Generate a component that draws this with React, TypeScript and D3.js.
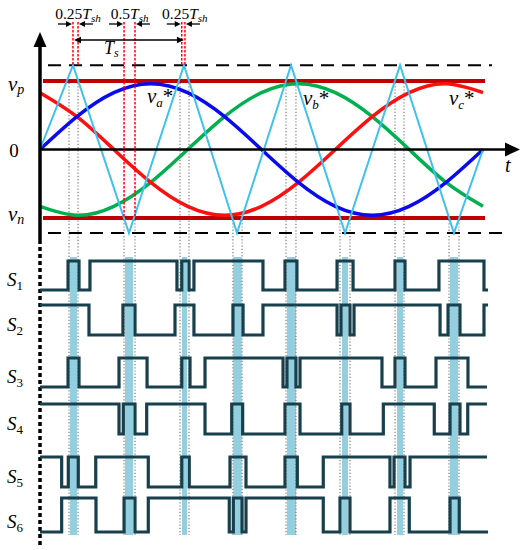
import React from "react";
import * as d3 from "d3";

// ---------- data (angle in electrical degrees, 0..360 = one fundamental period) ----------
const thetaDeg = [0, 30, 60, 90, 120, 150, 180, 210, 240, 270, 300, 330, 360];
const vaRef = [0, 0.48, 0.83, 0.96, 0.83, 0.48, 0, -0.48, -0.83, -0.96, -0.83, -0.48, 0];
const vbRef = [-0.83, -0.96, -0.83, -0.48, 0, 0.48, 0.83, 0.96, 0.83, 0.48, 0, -0.48, -0.83];
const vcRef = [0.83, 0.48, 0, -0.48, -0.83, -0.96, -0.83, -0.48, 0, 0.48, 0.83, 0.96, 0.83];

const carrierT = [0, 26.8, 72.3, 117.0, 160.1, 204.0, 247.9, 292.6, 336.4, 360];
const carrierV = [0, 1.23, -1.22, 1.23, -1.22, 1.23, -1.22, 1.23, -1.22, 0];

const vpLevel = 1;
const vnLevel = -1;
const dashTop = 1.23;
const dashBottom = -1.22;

// carrier crossing of vp / vn around each carrier vertex (peak, trough, peak, ...)
const crossingPairs = [
  [23.6, 30.9], [68.3, 77.2], [113.8, 121.1], [156.8, 164.2],
  [199.9, 208.0], [243.8, 251.9], [288.5, 295.8], [332.4, 340.5],
];
const crossingKind = ["peak", "trough", "peak", "trough", "peak", "trough", "peak", "trough"];

// shoot-through intervals (shaded)
const shootThrough = [
  [24.4, 30.1], [69.1, 75.6], [115.4, 119.5], [157.1, 163.9],
  [200.7, 208.0], [245.4, 250.3], [290.1, 295.0], [333.2, 339.7],
];

// annotation markers
const annotPairs = [[26.8, 30.9], [68.3, 77.2], [115.2, 117.8]];
const annotLabels = ["0.25", "0.5", "0.25"];
const tsSpan = [26.8, 117.8];

// switching signals: initial state + switching instants
const switchNames = ["1", "2", "3", "4", "5", "6"];
const switchInit = [0, 1, 0, 1, 1, 0];
const s1Edges = [22.8, 31.7, 40.6, 111.3, 115.2, 121.1, 125.1, 181.2, 199.1, 208.8, 241.4, 254.4, 288.5, 296.6, 324.2, 360.8];
const s2Edges = [39.8, 67.4, 77.2, 109.7, 125.1, 156.8, 165.0, 181.2, 241.4, 244.6, 251.9, 255.2, 325.1, 331.6, 341.3, 360.8];
const s3Edges = [22.8, 31.7, 64.2, 87.0, 115.2, 121.9, 134.1, 197.5, 200.7, 208.0, 211.3, 277.9, 288.5, 296.6, 321.8, 347.8];
const s4Edges = [64.2, 67.7, 77.2, 86.7, 134.1, 155.8, 164.7, 199.1, 211.3, 245.2, 251.9, 279.0, 320.4, 333.2, 341.3, 347.6];
const s5Edges = [17.6, 23.0, 31.1, 45.3, 88.0, 115.2, 121.3, 154.4, 167.4, 199.1, 209.1, 230.2, 284.4, 287.7, 296.6, 300.7];
const s6Edges = [17.6, 45.5, 68.3, 77.2, 88.0, 153.8, 157.1, 164.2, 167.4, 230.2, 243.8, 251.9, 284.4, 300.1, 333.2, 340.7];
const switchEdges = [s1Edges, s2Edges, s3Edges, s4Edges, s5Edges, s6Edges];
const switchEnd = [364.1, 364.1, 363.2, 363.2, 363.2, 364.1];

// ---------- drawing ----------
const SERIF = "'Liberation Serif', 'Times New Roman', serif";

export default function App() {
  const W = 527, H = 550;
  const x = d3.scaleLinear().domain([0, 360]).range([40, 483]);
  const y = d3.scaleLinear().domain([-1, 1]).range([218, 81]);

  // layout of pulse rows
  const ROW_HIGH = [261, 305, 358, 404, 457, 498];
  const ROW_LOW = [290, 335, 387, 434, 487, 532];
  const BAND_TOP = 257, BAND_BOTTOM = 535;
  const LABEL_SHIFT = [2.5, 0, 1.5];

  const smooth = d3.line<[number, number]>().x(d => x(d[0])).y(d => y(d[1])).curve(d3.curveNatural);
  const straight = d3.line<[number, number]>().x(d => x(d[0])).y(d => y(d[1]));

  const sinePath = (vals: number[]) => smooth(thetaDeg.map((t, i) => [t, vals[i]] as [number, number])) || "";
  const carrierPath = straight(carrierT.map((t, i) => [t, carrierV[i]] as [number, number])) || "";

  const pulsePath = (k: number) => {
    const hi = ROW_HIGH[k], lo = ROW_LOW[k];
    let state = switchInit[k];
    const pts: [number, number][] = [[x(0), state ? hi : lo]];
    for (const e of switchEdges[k]) {
      pts.push([x(e), state ? hi : lo]);
      state = 1 - state;
      pts.push([x(e), state ? hi : lo]);
    }
    pts.push([x(switchEnd[k]), state ? hi : lo]);
    return d3.line()(pts) || "";
  };

  const y0 = y(0);
  const arrowHead = (tx: number, ty: number, dir: "l" | "r" | "u", len: number, hw: number) => {
    if (dir === "r") return `M${tx},${ty}L${tx - len},${ty - hw}L${tx - len},${ty + hw}Z`;
    if (dir === "l") return `M${tx},${ty}L${tx + len},${ty - hw}L${tx + len},${ty + hw}Z`;
    return `M${tx},${ty}L${tx - hw},${ty + len}L${tx + hw},${ty + len}Z`;
  };

  return (
    <svg width={W} height={H} style={{ position: "absolute", left: 0, top: 0, background: "#fff" }}
      fontFamily={SERIF}>
      {/* shoot-through bands */}
      {shootThrough.map(([a, b], i) => (
        <rect key={"b" + i} x={x(a)} y={BAND_TOP} width={x(b) - x(a)} height={BAND_BOTTOM - BAND_TOP} fill="#93cfdf" />
      ))}

      {/* grey dotted guide lines */}
      {crossingPairs.map((p, i) =>
        p.map((t, j) => (
          <line key={`g${i}-${j}`} x1={x(t)} x2={x(t)}
            y1={crossingKind[i] === "peak" ? y(vpLevel) + 2 : y(vnLevel) + 2} y2={BAND_BOTTOM}
            stroke="#7a7a7a" strokeWidth={1.2} strokeDasharray="1.2 2" />
        ))
      )}

      {/* dashed carrier limits */}
      <line x1={48} x2={492} y1={y(dashTop)} y2={y(dashTop)} stroke="#000" strokeWidth={2} strokeDasharray="13 8" />
      <line x1={48} x2={502} y1={y(dashBottom)} y2={y(dashBottom)} stroke="#000" strokeWidth={2} strokeDasharray="13 8" />

      {/* vp / vn */}
      <line x1={43} x2={485} y1={y(vpLevel)} y2={y(vpLevel)} stroke="#c00000" strokeWidth={4} />
      <line x1={43} x2={485} y1={y(vnLevel)} y2={y(vnLevel)} stroke="#c00000" strokeWidth={4} />

      {/* references */}
      <path d={sinePath(vbRef)} fill="none" stroke="#00b050" strokeWidth={3.5} />
      <path d={sinePath(vcRef)} fill="none" stroke="#ff1010" strokeWidth={3.5} />
      <path d={sinePath(vaRef)} fill="none" stroke="#0a0af0" strokeWidth={3.5} />

      {/* carrier */}
      <path d={carrierPath} fill="none" stroke="#3ec1f0" strokeWidth={2} strokeLinejoin="miter" />

      {/* axes */}
      <line x1={x(0)} x2={506} y1={y0} y2={y0} stroke="#000" strokeWidth={2.5} />
      <path d={arrowHead(520, y0, "r", 15, 7)} fill="#000" />
      <line x1={40} x2={40} y1={46} y2={240} stroke="#000" strokeWidth={3.5} />
      <path d={arrowHead(40, 32, "u", 15, 6.5)} fill="#000" />
      <line x1={40} x2={40} y1={240} y2={548} stroke="#000" strokeWidth={3.5} strokeDasharray="4 3" />

      {/* red annotation lines */}
      {annotPairs.map((p, i) =>
        p.map((t, j) => (
          <line key={`r${i}-${j}`} x1={x(t)} x2={x(t)} y1={22}
            y2={i === 1 ? y(vnLevel) : y(dashTop)}
            stroke="#ff0000" strokeWidth={1.5} strokeDasharray="2.5 1.5" />
        ))
      )}

      {/* annotation arrows + labels */}
      {annotPairs.map(([a, b], i) => (
        <g key={"a" + i}>
          <line x1={x(a) - 15} x2={x(a) - 4} y1={24} y2={24} stroke="#000" strokeWidth={1.3} />
          <path d={arrowHead(x(a) - 1, 24, "r", 6, 3)} fill="#000" />
          <line x1={x(b) + 15} x2={x(b) + 4} y1={24} y2={24} stroke="#000" strokeWidth={1.3} />
          <path d={arrowHead(x(b) + 1, 24, "l", 6, 3)} fill="#000" />
          <text x={(x(a) + x(b)) / 2 + LABEL_SHIFT[i]} y={18.5} fontSize={15.5} textAnchor="middle" fill="#000">
            {annotLabels[i]}<tspan fontStyle="italic">T</tspan>
            <tspan fontStyle="italic" fontSize={11} dy={3}>sh</tspan>
          </text>
        </g>
      ))}
      <line x1={x(tsSpan[0]) + 4} x2={x(tsSpan[1]) - 4} y1={40} y2={40} stroke="#000" strokeWidth={1.3} />
      <path d={arrowHead(x(tsSpan[0]) + 1, 40, "l", 7, 3.2)} fill="#000" />
      <path d={arrowHead(x(tsSpan[1]) - 1, 40, "r", 7, 3.2)} fill="#000" />
      <text x={104} y={54} fontSize={18} fontStyle="italic">T<tspan fontSize={12} dy={3}>s</tspan></text>

      {/* pulses */}
      {switchNames.map((n, k) => (
        <path key={"p" + k} d={pulsePath(k)} fill="none" stroke="#173f4c" strokeWidth={3.2}
          strokeLinejoin="miter" strokeLinecap="butt" />
      ))}

      {/* labels */}
      <text x={8} y={91} fontSize={21} fontStyle="italic">v<tspan fontSize={14} dy={3}>p</tspan></text>
      <text x={8} y={221} fontSize={21} fontStyle="italic">v<tspan fontSize={14} dy={3}>n</tspan></text>
      <text x={14} y={157} fontSize={19} textAnchor="middle">0</text>
      <text x={505} y={172} fontSize={20} fontStyle="italic">t</text>

      <text x={147} y={103} fontSize={21} fontStyle="italic">v<tspan fontSize={13} dy={4}>a</tspan><tspan fontStyle="normal" dy={-4}>*</tspan></text>
      <text x={303} y={105} fontSize={21} fontStyle="italic">v<tspan fontSize={13} dy={4}>b</tspan><tspan fontStyle="normal" dy={-4}>*</tspan></text>
      <text x={449} y={105} fontSize={21} fontStyle="italic">v<tspan fontSize={13} dy={4}>c</tspan><tspan fontStyle="normal" dy={-4}>*</tspan></text>

      {switchNames.map((n, k) => (
        <text key={"s" + k} x={7} y={ROW_LOW[k] - 4.5} fontSize={19} fontStyle="italic">
          S<tspan fontStyle="normal" fontSize={13} dy={4}>{n}</tspan>
        </text>
      ))}
    </svg>
  );
}
